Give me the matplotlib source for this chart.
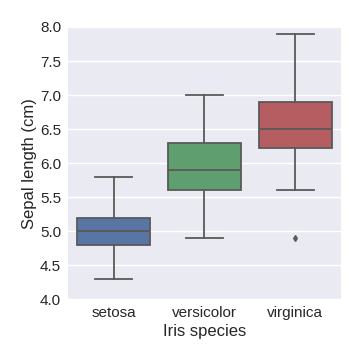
import matplotlib
matplotlib.use("Agg")
import matplotlib.pyplot as plt

species = ["setosa", "versicolor", "virginica"]
whislo = [4.3, 4.9, 5.6]
q1 = [4.8, 5.6, 6.225]
med = [5.0, 5.9, 6.5]
q3 = [5.2, 6.3, 6.9]
whishi = [5.8, 7.0, 7.9]
fliers = [[], [], [4.9]]
colors = ["#5975a4", "#5f9e6e", "#b55d60"]
yticks = [4.0, 4.5, 5.0, 5.5, 6.0, 6.5, 7.0, 7.5, 8.0]

plt.rcParams['font.family'] = ['Liberation Sans', 'DejaVu Sans']

fig = plt.figure(figsize=(3.6, 3.6), dpi=100)
ax = fig.add_axes([0.189, 0.169, 0.758, 0.756])
ax.set_facecolor("#EAEAF2")
for s in ax.spines.values():
    s.set_visible(False)

stats = []
for i in range(3):
    stats.append(dict(label=species[i], whislo=whislo[i], q1=q1[i], med=med[i],
                      q3=q3[i], whishi=whishi[i], fliers=fliers[i]))

gray = "#595959"
bp = ax.bxp(stats, positions=range(3), widths=0.8, patch_artist=True,
            boxprops=dict(edgecolor=gray, linewidth=1.3),
            medianprops=dict(color=gray, linewidth=1.3),
            whiskerprops=dict(color=gray, linewidth=1.3),
            capprops=dict(color=gray, linewidth=1.3),
            flierprops=dict(marker="d", markersize=3, markerfacecolor=gray,
                            markeredgecolor=gray))
for patch, c in zip(bp["boxes"], colors):
    patch.set_facecolor(c)

ax.set_xlim(-0.5, 2.5)
ax.set_ylim(4.0, 8.0)
ax.set_yticks(yticks)
ax.set_yticklabels(["%.1f" % t for t in yticks])
ax.set_xticks(range(3))
ax.set_xticklabels(species)
ax.yaxis.grid(True, color="white", linewidth=1)
ax.set_axisbelow(True)
ax.tick_params(length=0, labelsize=11, colors="#262626", pad=5)
ax.set_xlabel("Iris species", fontsize=12, color="#262626", labelpad=3)
ax.set_ylabel("Sepal length (cm)", fontsize=12, color="#262626", labelpad=2)

fig.savefig("out.png", dpi=100)
